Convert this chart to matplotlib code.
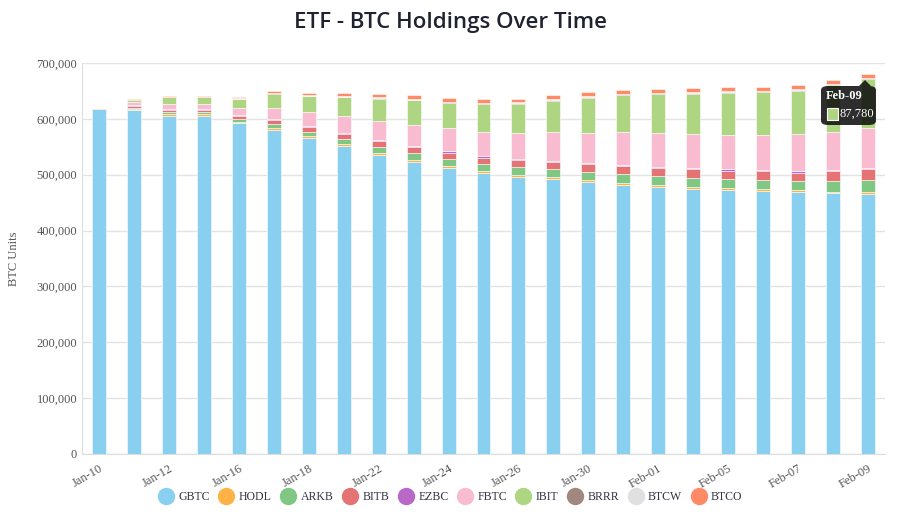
import matplotlib
matplotlib.use("Agg")
import matplotlib.pyplot as plt
from matplotlib.lines import Line2D
from matplotlib.patches import FancyBboxPatch, Polygon, Rectangle
from matplotlib.ticker import FuncFormatter
import numpy as np

dates = ["Jan-10", "Jan-11", "Jan-12", "Jan-15", "Jan-16", "Jan-17", "Jan-18", "Jan-19",
         "Jan-22", "Jan-23", "Jan-24", "Jan-25", "Jan-26", "Jan-29", "Jan-30", "Jan-31",
         "Feb-01", "Feb-02", "Feb-05", "Feb-06", "Feb-07", "Feb-08", "Feb-09"]

# holdings in thousand BTC
gbtc = [618.2, 616.4, 606.0, 606.0, 592.0, 580.6, 566.0, 552.0, 535.8, 523.3, 512.5, 502.5,
        496.5, 491.7, 487.0, 481.6, 478.6, 475.0, 472.0, 470.3, 468.5, 466.7, 465.4]
hodl = [1.5, 1.0, 2.4, 2.4, 2.4, 3.0, 3.0, 3.0, 2.4, 3.0, 3.0, 3.6,
        3.0, 3.6, 3.6, 3.6, 3.0, 3.6, 4.2, 3.6, 3.6, 3.0, 3.6]
arkb = [0.3, 1.5, 3.0, 3.0, 4.8, 6.6, 7.2, 8.4, 10.7, 12.0, 12.0, 12.5,
        13.7, 14.3, 14.3, 15.5, 16.0, 15.5, 16.0, 16.7, 16.7, 18.5, 21.0]
bitb = [0.0, 4.5, 4.8, 4.8, 6.6, 7.2, 9.0, 10.2, 11.3, 11.3, 12.0, 12.0,
        13.7, 13.7, 15.0, 15.0, 14.3, 15.5, 15.0, 15.5, 15.0, 18.0, 19.7]
ezbc = [0.0, 0.6, 0.6, 0.6, 1.2, 1.8, 1.8, 1.8, 2.4, 2.4, 3.0, 3.0,
        1.8, 1.8, 1.8, 1.8, 2.4, 2.4, 2.4, 1.8, 3.0, 1.8, 1.8]
fbtc = [0.0, 5.5, 10.0, 10.0, 12.0, 20.0, 24.5, 30.0, 33.4, 37.0, 40.6, 43.0,
        46.0, 51.3, 53.0, 59.0, 59.7, 61.0, 61.5, 63.3, 66.3, 69.2, 72.2]
ibit = [0.0, 3.5, 12.0, 12.0, 16.0, 25.7, 28.7, 33.4, 39.4, 44.2, 45.4, 50.0,
        52.5, 56.0, 63.3, 65.7, 69.8, 72.2, 75.8, 76.4, 77.6, 84.2, 87.78]
brrr = [0.0, 0.5, 0.5, 0.5, 1.2, 0.8, 1.2, 1.2, 2.0, 1.2, 1.8, 1.8,
        1.8, 1.8, 1.8, 1.8, 1.8, 1.8, 1.8, 1.8, 1.8, 1.2, 1.8]
btcw = [0.0, 0.3, 0.5, 0.5, 0.6, 0.4, 0.6, 0.6, 1.0, 0.6, 0.6, 0.6,
        0.6, 0.6, 0.6, 0.6, 0.6, 0.6, 0.6, 0.6, 0.6, 0.6, 0.6]
btco = [0.0, 1.0, 1.8, 1.8, 2.4, 3.0, 3.6, 6.0, 6.0, 7.2, 6.6, 6.6,
        6.6, 7.8, 7.2, 7.2, 6.6, 7.8, 7.8, 7.8, 8.4, 6.6, 7.2]

names = ["GBTC", "HODL", "ARKB", "BITB", "EZBC", "FBTC", "IBIT", "BRRR", "BTCW", "BTCO"]
series = [gbtc, hodl, arkb, bitb, ezbc, fbtc, ibit, brrr, btcw, btco]
colors = ["#89CFF0", "#FFB347", "#81C784", "#E57373", "#BA68C8",
          "#F8BBD0", "#AED581", "#A1887F", "#E0E0E0", "#FF8A65"]

plt.rcParams["font.family"] = ["Liberation Serif", "DejaVu Serif"]

fig = plt.figure(figsize=(9.02, 5.17), dpi=100)
ax = fig.add_axes([82 / 902, 63 / 517, 803 / 902, 391 / 517])

x = np.arange(len(dates))
bottom = np.zeros(len(dates))
for name, vals, clr in zip(names, series, colors):
    v = np.array(vals) * 1000
    ax.bar(x, v, width=0.4, bottom=bottom, color=clr, edgecolor="white", linewidth=0.4,
           label=name, zorder=3)
    bottom += v

ax.set_xlim(-0.5, len(dates) - 0.5)
ax.set_ylim(0, 700000)
ax.set_yticks(np.arange(0, 700001, 100000))
ax.yaxis.set_major_formatter(FuncFormatter(lambda v, p: f"{int(v):,}"))
ax.set_xticks(x[::2])
ax.set_xticklabels(dates[::2], rotation=30, ha="right", rotation_mode="anchor")
ax.tick_params(axis="both", length=0, labelsize=9, labelcolor="#555555")
ax.tick_params(axis="x", pad=6)
ax.grid(axis="y", color="#e3e3e3", linewidth=1, zorder=0)
for side in ["top", "right"]:
    ax.spines[side].set_visible(False)
for side in ["left", "bottom"]:
    ax.spines[side].set_color("#dddddd")
ax.set_ylabel("BTC Units", fontsize=9, color="#555555", labelpad=12)

fig.text(0.5, 0.957, "ETF - BTC Holdings Over Time", ha="center", va="center",
         fontsize=16, fontweight="semibold", fontfamily="Open Sans", color="#1f2330")

handles = [Line2D([0], [0], marker="o", linestyle="none", markersize=11.5,
                  markerfacecolor=c, markeredgecolor=c) for c in colors]
fig.legend(handles, names, loc="center", bbox_to_anchor=(0.497, 0.039), ncol=len(names),
           frameon=False, prop={"size": 8.5}, handletextpad=0.05,
           columnspacing=0.4, labelcolor="#333344")

# tooltip on the last bar
W, H = 902, 517
tip = FancyBboxPatch((821 / W, (H - 125) / H), 55 / W, 39 / H,
                     boxstyle="round,pad=0,rounding_size=0.008", transform=fig.transFigure,
                     facecolor="#111111", edgecolor="none", alpha=0.88, zorder=10)
fig.patches.append(tip)
tri = Polygon([(859 / W, (H - 86) / H), (871 / W, (H - 86) / H), (865 / W, (H - 80) / H)],
              closed=True, transform=fig.transFigure, facecolor="#111111", alpha=0.88,
              edgecolor="none", zorder=10)
fig.patches.append(tri)
sq = Rectangle((827 / W, (H - 120) / H), 11 / W, 12 / H, transform=fig.transFigure,
               facecolor=colors[6], edgecolor="white", linewidth=0.8, zorder=11)
fig.patches.append(sq)
fig.text(826 / W, (H - 96) / H, dates[-1], fontweight="bold",
         fontsize=9, color="white", va="center", ha="left", zorder=12)
fig.text(840 / W, (H - 114) / H, f"{int(round(ibit[-1] * 1000)):,}",
         fontsize=9, color="white", va="center", ha="left", zorder=12)

plt.savefig("out.png", dpi=100)
